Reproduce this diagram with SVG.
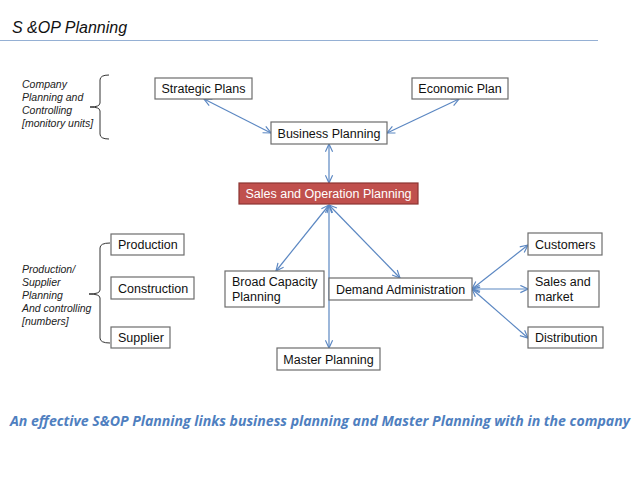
<svg xmlns="http://www.w3.org/2000/svg" width="638" height="478" viewBox="0 0 638 478">
<style>
.box{fill:#ffffff;stroke:#6d6d6d;stroke-width:1.2}
.lbl{font-family:"Liberation Sans",Arial,sans-serif;font-size:12.5px;fill:#111}
.side{font-family:"Liberation Sans",Arial,sans-serif;font-size:10.5px;font-style:italic;fill:#222}
.conn{stroke:#5b87c2;stroke-width:1.2;fill:none;marker-start:url(#ah);marker-end:url(#ah)}
.brace{fill:none;stroke:#333;stroke-width:1}
</style>
<defs>
<marker id="ah" viewBox="0 0 10 10" refX="9.5" refY="5" markerWidth="9" markerHeight="9" markerUnits="userSpaceOnUse" orient="auto-start-reverse">
<path d="M1,1 L9.5,5 L1,9" fill="none" stroke="#5b87c2" stroke-width="1.3"/>
</marker>
</defs>
<rect width="638" height="478" fill="#ffffff"/>
<g id="title">
<text x="12" y="33" font-family="Liberation Sans,Arial,sans-serif" font-size="16" font-style="italic" fill="#111">S &amp;OP Planning</text>
<line x1="0" y1="40.5" x2="598" y2="40.5" stroke="#95b0d4" stroke-width="1.2"/>
</g>
<g id="connectors">
<line class="conn" x1="204" y1="99" x2="271" y2="133"/>
<line class="conn" x1="459" y1="99" x2="387" y2="133"/>
<line class="conn" x1="329" y1="144" x2="329" y2="183"/>
<line class="conn" x1="329" y1="205" x2="276" y2="271"/>
<line class="conn" x1="329" y1="205" x2="400" y2="278"/>
<line class="conn" x1="329" y1="205" x2="329" y2="348"/>
<line class="conn" x1="472" y1="289" x2="528" y2="245"/>
<line class="conn" x1="472" y1="289" x2="528" y2="289"/>
<line class="conn" x1="472" y1="289" x2="528" y2="338"/>
</g>
<g id="company-label">
<text class="side" x="22" y="88">Company</text>
<text class="side" x="22" y="101">Planning and</text>
<text class="side" x="22" y="114">Controlling</text>
<text class="side" x="22" y="127">[monitory units]</text>
<path class="brace" d="M109,75 Q100,75 100,80 L100,103 Q100,107 90,107 Q100,107 100,111 L100,134 Q100,139 109,139"/>
</g>
<g id="production-label">
<text class="side" x="22" y="273">Production/</text>
<text class="side" x="22" y="286">Supplier</text>
<text class="side" x="22" y="299">Planning</text>
<text class="side" x="22" y="312">And controlling</text>
<text class="side" x="22" y="325">[numbers]</text>
<path class="brace" d="M110,243 Q100,243 100,248 L100,290 Q100,294 89,294 Q100,294 100,298 L100,338 Q100,343 110,343"/>
</g>
<g id="strategic-plans"><rect class="box" x="155" y="78" width="97" height="21"/><text class="lbl" x="203.5" y="93" text-anchor="middle">Strategic Plans</text></g>
<g id="economic-plan"><rect class="box" x="412" y="78" width="96" height="21"/><text class="lbl" x="460" y="93" text-anchor="middle">Economic Plan</text></g>
<g id="business-planning"><rect class="box" x="271" y="122" width="116" height="22"/><text class="lbl" x="329" y="137.5" text-anchor="middle">Business Planning</text></g>
<g id="sop"><rect x="239" y="183" width="179" height="21" fill="#c0504d" stroke="#8c3533" stroke-width="1.2"/><text class="lbl" x="328.5" y="198" text-anchor="middle" fill="#ffffff" style="fill:#ffffff">Sales and Operation Planning</text></g>
<g id="production"><rect class="box" x="111" y="234" width="73" height="21"/><text class="lbl" x="118" y="249">Production</text></g>
<g id="construction"><rect class="box" x="111" y="277" width="83" height="22"/><text class="lbl" x="118" y="292.5">Construction</text></g>
<g id="supplier"><rect class="box" x="111" y="327" width="59" height="21"/><text class="lbl" x="118" y="342">Supplier</text></g>
<g id="broad-capacity"><rect class="box" x="225" y="271" width="99" height="36"/><text class="lbl" x="232" y="286">Broad Capacity</text><text class="lbl" x="232" y="301">Planning</text></g>
<g id="demand-admin"><rect class="box" x="329" y="278" width="143" height="22"/><text class="lbl" x="400.5" y="293.5" text-anchor="middle">Demand Administration</text></g>
<g id="customers"><rect class="box" x="528" y="233" width="74" height="22"/><text class="lbl" x="535" y="248.5">Customers</text></g>
<g id="sales-market"><rect class="box" x="528" y="271" width="71" height="36"/><text class="lbl" x="535" y="286">Sales and</text><text class="lbl" x="535" y="301">market</text></g>
<g id="distribution"><rect class="box" x="528" y="327" width="75" height="21"/><text class="lbl" x="535" y="342">Distribution</text></g>
<g id="master-planning"><rect class="box" x="277" y="348" width="103" height="22"/><text class="lbl" x="328.5" y="363.5" text-anchor="middle">Master Planning</text></g>
<g id="caption">
<text x="10" y="426" font-family="Open Sans,Noto Sans,sans-serif" font-size="13.5" font-weight="bold" font-style="italic" fill="#4f7fc0" textLength="620" lengthAdjust="spacingAndGlyphs">An effective S&amp;OP Planning links business planning and Master Planning with in the company</text>
</g>
</svg>
